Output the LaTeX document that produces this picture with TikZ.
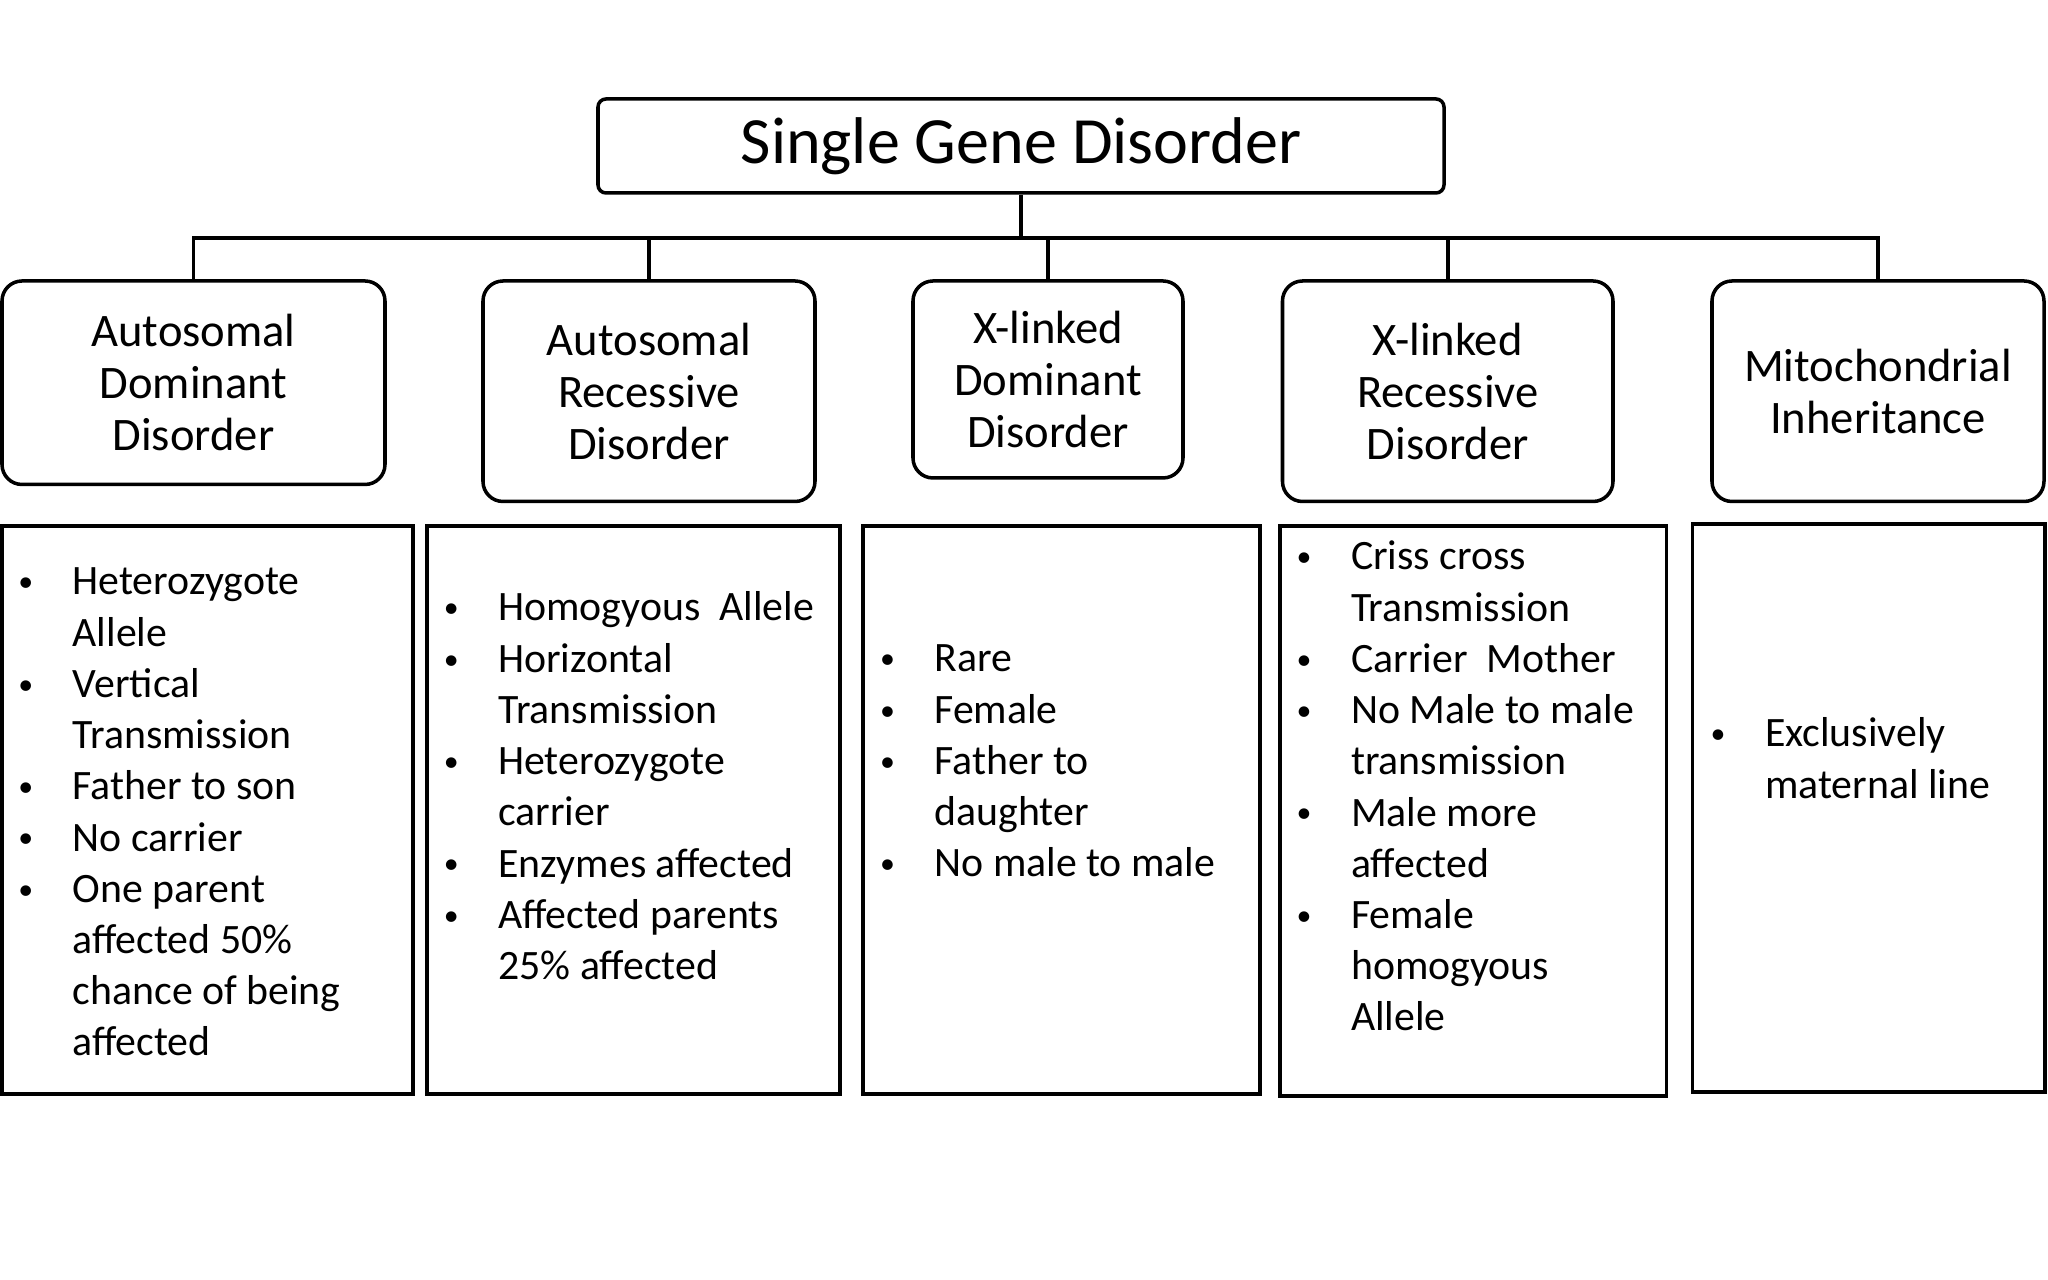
\documentclass[tikz,border=0pt]{standalone}
\usepackage{fontspec}
\setmainfont{Carlito}
\newcommand\bul{\makebox[4.7mm][l]{\makebox[0pt][c]{\raisebox{0.9pt}{\fontsize{8.5pt}{8.5pt}\selectfont\textbullet}}}}
\newcommand\ind{\hspace*{4.7mm}}
\newcommand\blist[1]{\parbox[t]{5cm}{\fontsize{11.9pt}{14.57pt}\selectfont\raggedright #1}}
\tikzset{
  topbox/.style={draw, line width=1pt, rounded corners=0.08cm, inner sep=0pt, align=center, font=\fontsize{18.8pt}{22pt}\selectfont},
  catbox/.style={draw, line width=1pt, rounded corners=0.2cm, inner sep=0pt, align=center, font=\fontsize{13.26pt}{14.8pt}\selectfont},
  listbox/.style={draw, line width=1pt, inner sep=0pt},
  listtext/.style={anchor=base west, inner sep=0pt},
  conn/.style={line width=1pt}
}
\begin{document}
\begin{tikzpicture}
\useasboundingbox (0,0) rectangle (20.48,-12.8);
\node[topbox, minimum width=8.46cm, minimum height=0.94cm] (top) at (10.21,-1.46) {Single Gene Disorder};
\node[catbox, minimum width=3.83cm, minimum height=2.035cm] (c1) at (1.935,-3.8275) {Autosomal\\Dominant\\Disorder};
\node[catbox, minimum width=3.32cm, minimum height=2.205cm] (c2) at (6.49,-3.9125) {Autosomal\\Recessive\\Disorder};
\node[catbox, minimum width=2.70cm, minimum height=1.97cm] (c3) at (10.48,-3.795) {X-linked\\Dominant\\Disorder};
\node[catbox, minimum width=3.305cm, minimum height=2.205cm] (c4) at (14.4775,-3.9125) {X-linked\\Recessive\\Disorder};
\node[catbox, minimum width=3.32cm, minimum height=2.205cm] (c5) at (18.78,-3.9125) {Mitochondrial\\Inheritance};
\coordinate (bus) at (10.21,-2.38);
\draw[conn] (top.south) -- (bus);
\draw[conn] (c1.north) -- (c1.north |- bus) -- (c5.north |- bus) -- (c5.north);
\draw[conn] (c2.north) -- (c2.north |- bus);
\draw[conn] (c3.north) -- (c3.north |- bus);
\draw[conn] (c4.north) -- (c4.north |- bus);
\node[listbox, minimum width=4.11cm, minimum height=5.68cm] (b1) at (2.075,-8.10) {};
\node[listbox, minimum width=4.13cm, minimum height=5.68cm] (b2) at (6.335,-8.10) {};
\node[listbox, minimum width=3.97cm, minimum height=5.68cm] (b3) at (10.615,-8.10) {};
\node[listbox, minimum width=3.865cm, minimum height=5.70cm] (b4) at (14.7325,-8.11) {};
\node[listbox, minimum width=3.525cm, minimum height=5.68cm] (b5) at (18.6875,-8.08) {};
\node[listtext] (t1) at (0.25,-5.95) {\blist{\bul Heterozygote\\ \ind Allele\\ \bul Vertical\\ \ind Transmission\\ \bul Father to son\\ \bul No carrier\\ \bul One parent\\ \ind affected 50\%\\ \ind chance of being\\ \ind affected}};
\node[listtext] (t2) at (4.506,-6.21) {\blist{\bul Homogyous\ \ Allele\\ \bul Horizontal\\ \ind Transmission\\ \bul Heterozygote\\ \ind carrier\\ \bul Enzymes affected\\ \bul Affected parents\\ \ind 25\% affected}};
\node[listtext] (t3) at (8.868,-6.72) {\blist{\bul Rare\\ \bul Female\\ \bul Father to\\ \ind daughter\\ \bul No male to male}};
\node[listtext] (t4) at (13.034,-5.70) {\blist{\bul Criss cross\\ \ind Transmission\\ \bul Carrier\ \ Mother\\ \bul No Male to male\\ \ind transmission\\ \bul Male more\\ \ind affected\\ \bul Female\\ \ind homogyous\\ \ind Allele}};
\node[listtext] (t5) at (17.174,-7.47) {\blist{\bul Exclusively\\ \ind maternal line}};
\end{tikzpicture}
\end{document}
